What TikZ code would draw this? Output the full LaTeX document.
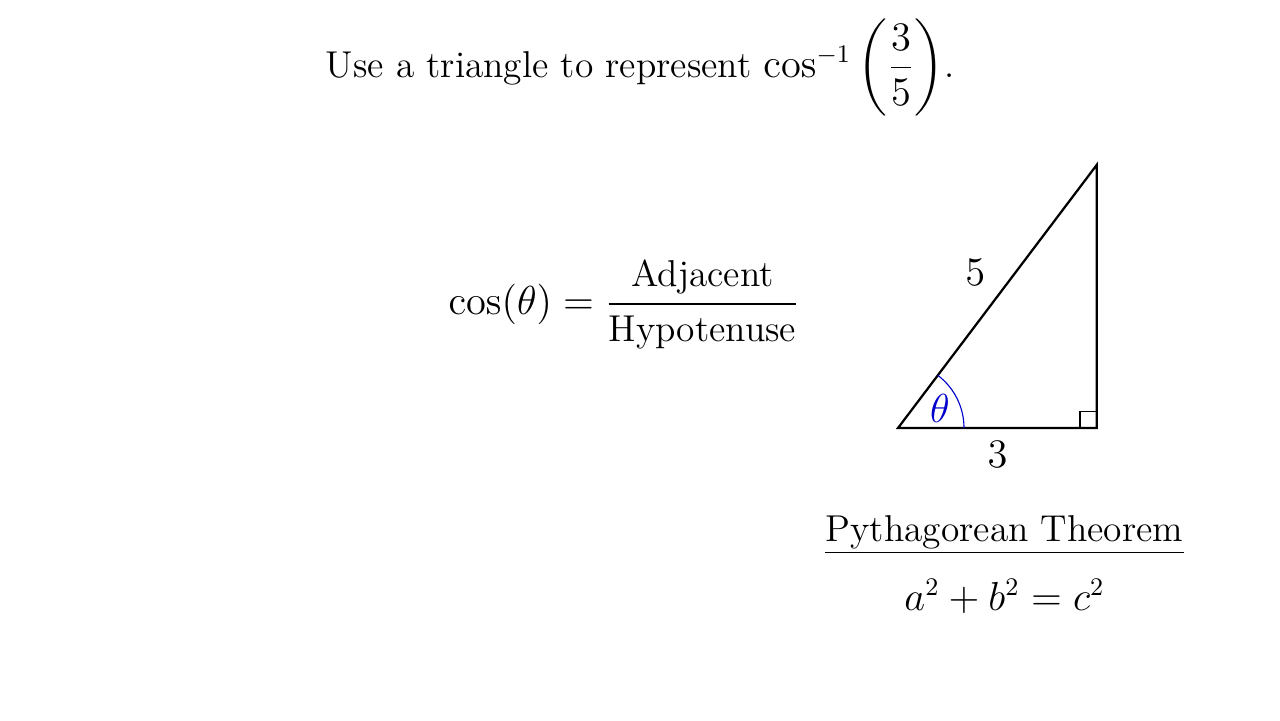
\documentclass[tikz,border=0pt]{standalone}
\usepackage{amsmath}
\begin{document}
\begin{tikzpicture}[every node/.style={font=\fontsize{13.3}{16}\selectfont}]
\useasboundingbox (0,0) rectangle (16,9);
\node [anchor=base] (title) at (8,8.03) {Use a triangle to represent $\cos^{-1}\left(\dfrac{3}{5}\right)$.};
\node (cosdef) at (7.8,5.19) {$\cos(\theta)=\dfrac{\text{Adjacent}}{\text{Hypotenuse}}$};
\coordinate (A) at (11.225,3.65);
\coordinate (B) at (13.71,3.65);
\coordinate (C) at (13.71,6.94);
\draw [thick](A) -- (B) -- (C) -- cycle;
\draw (B) ++(-0.21,0) rectangle ++(0.21,0.21);
\draw [blue!80!black](A) ++(0.825,0) arc (0:52.9:0.825);
\node [blue!80!black] (theta) at (11.75,3.9) {$\theta$};
\node (hyp) at (12.19,5.6) {$5$};
\node (adj) at (12.47,3.32) {$3$};
\node [anchor=base,inner sep=0pt] (pyth) at (12.556,2.229) {Pythagorean Theorem};
\draw ([yshift=-0.1375cm]pyth.base west) -- ([yshift=-0.1375cm]pyth.base east);
\node [anchor=base] (eq) at (12.556,1.375) {$a^2+b^2=c^2$};
\end{tikzpicture}
\end{document}
